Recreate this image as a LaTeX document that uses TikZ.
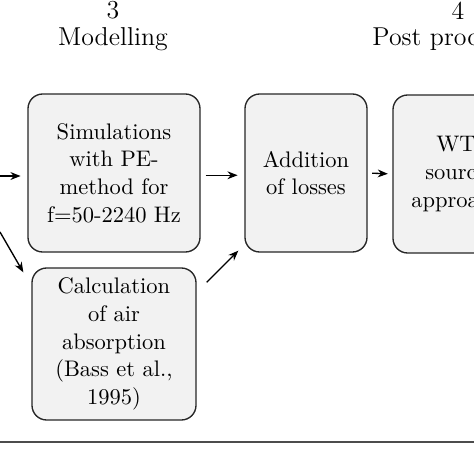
\documentclass[tikz,border=0pt]{standalone}
\usetikzlibrary{arrows.meta,calc}
\def\upx{0.4445pt}
\begin{document}
\begin{tikzpicture}[x=0.4445pt,y=-0.4445pt,
  box/.style={draw=black!85, line width=0.6pt, fill=black!5, rounded corners=6.5pt, align=center, inner sep=0pt, font=\fontsize{10}{12.3}\selectfont},
  arr/.style={-{Stealth[length=4.5pt,width=3.5pt]}, line width=0.6pt},
  head/.style={align=center, font=\fontsize{11.5}{11.6}\selectfont}]
\useasboundingbox (0,0) rectangle (474,474);
\node[head] (h3) at (113,26) {3\\Modelling};
\node[head] (h4) at (458,26) {4\\Post processing};
\node[box, minimum width=172*\upx, minimum height=158*\upx] (sim) at (114,173) {Simulations\\with PE-\\method for\\f=50-2240 Hz};
\node[box, minimum width=122*\upx, minimum height=158*\upx] (add) at (306,173) {Addition\\of losses};
\node[box, minimum width=126*\upx, minimum height=158*\upx] (wt) at (456,174) {WT\\source\\approach};
\node[box, minimum width=164*\upx, minimum height=152*\upx] (air) at (114,344) {Calculation\\of air\\absorption\\(Bass et al.,\\1995)};
\coordinate (in1) at (0,176);
\coordinate (in2) at (0,232);
\draw[arr, shorten >=3pt] (in1) -- (in1 -| sim.west);
\draw[arr] (in2) -- ($(air.north west)+(-8,5)$);
\draw[arr, shorten <=2.2pt, shorten >=3pt] ([yshift=-1pt]sim.east) -- ([yshift=-1pt]add.west);
\draw[arr] ($(air.north east)+(10,15)$) -- ($(add.south west)+(-6,-2)$);
\draw[arr, shorten <=2pt, shorten >=2pt] (add.east) -- (wt.west);
\draw[line width=0.8pt, black!70] (0,442) -- (474,442);
\end{tikzpicture}
\end{document}
